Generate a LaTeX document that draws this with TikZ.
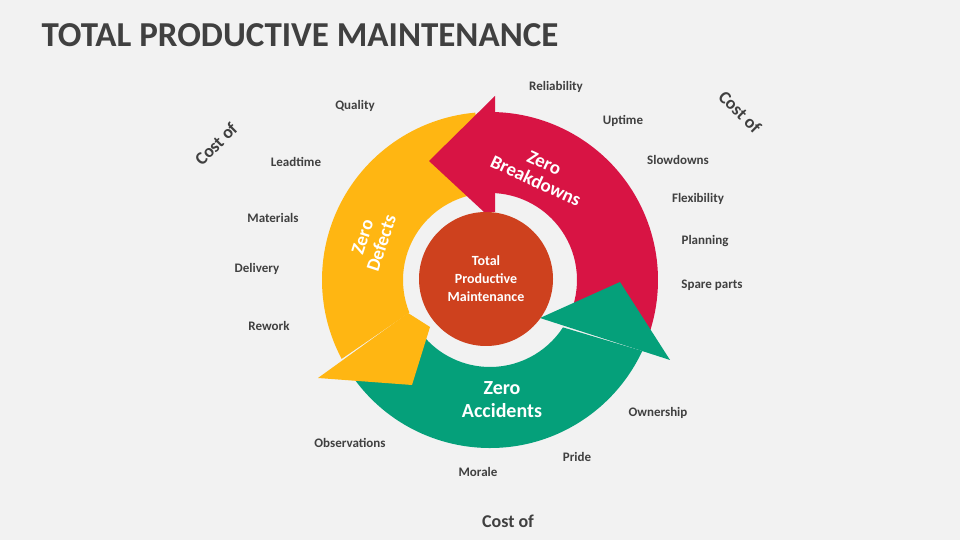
\documentclass[tikz,border=0pt]{standalone}
\usepackage{fontspec}
\setmainfont{Carlito}
\usetikzlibrary{calc}
\definecolor{bg}{HTML}{F2F2F2}
\definecolor{tpmred}{HTML}{D81444}
\definecolor{tpmyel}{HTML}{FFB612}
\definecolor{tpmgrn}{HTML}{05A07A}
\definecolor{tpmctr}{HTML}{CE411E}
\definecolor{txt}{HTML}{404040}
\tikzset{lbl/.style={font=\bfseries\fontsize{13}{15}\selectfont,text=txt},
 costlbl/.style={font=\bfseries\fontsize{18}{20}\selectfont,text=txt},
 arrtxt/.style={font=\bfseries\fontsize{19}{20}\selectfont,text=white,align=center}}
\begin{document}
\begin{tikzpicture}[x=1pt,y=1pt]
\fill[bg] (0,0) rectangle (960,540);
\useasboundingbox (0,0) rectangle (960,540);
\node[anchor=west,font=\bfseries\fontsize{35}{38}\selectfont,text=txt] (title) at (38,505) {TOTAL PRODUCTIVE MAINTENANCE};
\coordinate (R) at (490,260);
% bodies
\fill[tpmyel] ($(R)+(95:168)$) arc[start angle=95,end angle=208,radius=168] -- ($(R)+(202:87)$) arc[start angle=202,end angle=95,radius=87] -- cycle;
\fill[tpmred] ($(R)+(92:168)$) arc[start angle=92,end angle=-18,radius=168] -- ($(R)+(-18:87)$) arc[start angle=-18,end angle=92,radius=87] -- cycle;
\fill[tpmgrn] ($(R)+(215:168)$) arc[start angle=215,end angle=335,radius=168] -- ($(R)+(327:87)$) arc[start angle=327,end angle=215,radius=87] -- cycle;
% heads
\fill[tpmred] (495,444) -- (429,379) -- (484,328) -- (495,328) -- cycle;
\fill[tpmgrn] (540,222) -- (620,258) -- (670,180) -- cycle;
\fill[tpmyel] (318,162) -- (412,155) -- (430,213) -- (408,227) -- (343,180) -- cycle;
\node[circle,fill=tpmctr,minimum size=134pt,inner sep=0pt,text=white,align=center,font=\bfseries\fontsize{14}{18}\selectfont] (ctr) at (486,261) {Total\\Productive\\Maintenance};
\node[arrtxt,rotate=-25] (zb) at (540,368) {Zero\\Breakdowns};
\node[arrtxt,rotate=72] (zd) at (372,300) {Zero\\Defects};
\node[arrtxt,font=\bfseries\fontsize{20}{23}\selectfont] (za) at (502,140) {Zero\\Accidents};
\node[lbl] (l1) at (355,434) {Quality};
\node[lbl] (l2) at (296,378) {Leadtime};
\node[lbl] (l3) at (273,322) {Materials};
\node[lbl] (l4) at (257,271) {Delivery};
\node[lbl] (l5) at (269,214) {Rework};
\node[lbl] (r1) at (556,453) {Reliability};
\node[lbl] (r2) at (623,419) {Uptime};
\node[lbl] (r3) at (678,380) {Slowdowns};
\node[lbl] (r4) at (698,341) {Flexibility};
\node[lbl] (r5) at (705,299) {Planning};
\node[lbl] (r6) at (712,255) {Spare parts};
\node[lbl] (b1) at (658,127) {Ownership};
\node[lbl] (b2) at (577,83) {Pride};
\node[lbl] (b3) at (478,68) {Morale};
\node[lbl] (b4) at (350,97) {Observations};
\node[costlbl,rotate=45] (c1) at (216,396) {Cost of};
\node[costlbl,rotate=-45] (c2) at (740,428) {Cost of};
\node[costlbl] (c3) at (508,19) {Cost of};
\end{tikzpicture}
\end{document}
